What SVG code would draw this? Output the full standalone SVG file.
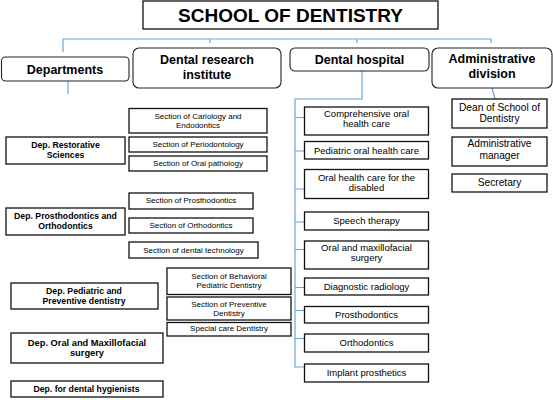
<svg xmlns="http://www.w3.org/2000/svg" width="553" height="400" viewBox="0 0 553 400">
<style>
text{font-family:"Liberation Sans",Arial,sans-serif;fill:#000;text-anchor:middle}
.top{fill:#fff;stroke:#222;stroke-width:1.1}
.box{fill:#fff;stroke:#111;stroke-width:1.3}
.t1{font-size:19px;font-weight:bold}
.t2{font-size:12.5px;font-weight:bold}
.dep{font-size:8.7px;font-weight:bold}
.sec{font-size:8px}
.hos{font-size:9.5px}
.adm{font-size:10.2px}
.con{fill:none;stroke:#6AA6DE;stroke-width:1.2}
</style>
<rect width="553" height="400" fill="#fff"/>
<g id="connectors" class="con">
<path d="M63,52 V39 H491 V43"/>
<path d="M210,39 V43"/>
<path d="M357,39 V43"/>
<path d="M68,81 V94"/>
<path d="M362,71 V99 H295 V367 H304.5"/>
<path d="M295,117.5 H304.5 M295,151 H304.5 M295,189 H304.5 M295,222 H304.5 M295,249.5 H304.5 M295,287.5 H304.5 M295,310.5 H304.5 M295,338.5 H304.5"/>
<path d="M492,88 L495,99"/>
<path d="M10,349 H20"/>
</g>
<g id="title"><rect class="box" x="143" y="1" width="295" height="28"/><text class="t1" x="290.5" y="21.5">SCHOOL OF DENTISTRY</text></g>
<g id="departments"><rect class="top" x="1.5" y="57" width="127.5" height="24" rx="4"/><text class="t2" x="65" y="73.5">Departments</text></g>
<g id="research"><rect class="top" x="133" y="48" width="148" height="40" rx="6"/><text class="t2" x="207" y="64.3">Dental research</text><text class="t2" x="207" y="78.7">institute</text></g>
<g id="hospital"><rect class="top" x="290" y="48" width="139" height="23" rx="5"/><text class="t2" x="359.5" y="63.5">Dental hospital</text></g>
<g id="admin"><rect class="top" x="432" y="48" width="120" height="40" rx="6"/><text class="t2" x="492" y="63.3">Administrative</text><text class="t2" x="492" y="77.7">division</text></g>

<g id="dep-restorative"><rect class="box" x="6" y="137" width="119" height="27"/><text class="dep" x="65.5" y="148">Dep. Restorative</text><text class="dep" x="65.5" y="157.7">Sciences</text></g>
<g id="dep-prosth"><rect class="box" x="6" y="208" width="119" height="27"/><text class="dep" x="65.5" y="219">Dep. Prosthodontics and</text><text class="dep" x="65.5" y="229">Orthodontics</text></g>
<g id="dep-pediatric"><rect class="box" x="11" y="283" width="147" height="26"/><text class="dep" x="84" y="294">Dep. Pediatric and</text><text class="dep" x="84" y="304.3">Preventive dentistry</text></g>
<g id="dep-oral"><rect class="box" x="11" y="333" width="152" height="30"/><text class="dep" x="87" y="345.7" style="font-size:9.3px">Dep. Oral and Maxillofacial</text><text class="dep" x="87" y="355.7" style="font-size:9.3px">surgery</text></g>
<g id="dep-hygienists"><rect class="box" x="11" y="381" width="152" height="16"/><text class="dep" x="86.5" y="391.7">Dep. for dental hygienists</text></g>

<g id="sec-cariology"><rect class="box" x="129" y="108.5" width="138" height="24.5"/><text class="sec" x="198" y="119.3">Section of Cariology and</text><text class="sec" x="198" y="127.7">Endodontics</text></g>
<g id="sec-perio"><rect class="box" x="129" y="137" width="138" height="15"/><text class="sec" x="198" y="147.3">Section of Periodontology</text></g>
<g id="sec-oralpath"><rect class="box" x="129" y="156" width="138" height="15"/><text class="sec" x="198" y="166">Section of Oral pathology</text></g>
<g id="sec-prosth"><rect class="box" x="129" y="193" width="124" height="16"/><text class="sec" x="191" y="203.3">Section of Prosthodontics</text></g>
<g id="sec-ortho"><rect class="box" x="129" y="218" width="124" height="15"/><text class="sec" x="191" y="228.3">Section of Orthodontics</text></g>
<g id="sec-tech"><rect class="box" x="129" y="242" width="129" height="16"/><text class="sec" x="193.5" y="252.7">Section of dental technology</text></g>
<g id="sec-behavioral"><rect class="box" x="167" y="268" width="124" height="26.5"/><text class="sec" x="229" y="279">Section of Behavioral</text><text class="sec" x="229" y="287.7">Pediatric Dentistry</text></g>
<g id="sec-preventive"><rect class="box" x="167" y="297" width="124" height="23"/><text class="sec" x="229" y="306.7">Section of Preventive</text><text class="sec" x="229" y="315.7">Dentistry</text></g>
<g id="sec-special"><rect class="box" x="167" y="322.5" width="124" height="13.5"/><text class="sec" x="229" y="330.5">Special care Dentistry</text></g>

<g id="h-comprehensive"><rect class="box" x="304.5" y="107" width="124" height="28"/><text class="hos" x="366.5" y="117.3">Comprehensive oral</text><text class="hos" x="366.5" y="127.3">health care</text></g>
<g id="h-pediatric"><rect class="box" x="304.5" y="141.5" width="124" height="17.5"/><text class="hos" x="366.5" y="153.5">Pediatric oral health care</text></g>
<g id="h-disabled"><rect class="box" x="304.5" y="169.5" width="124" height="29"/><text class="hos" x="366.5" y="181">Oral health care for the</text><text class="hos" x="366.5" y="191">disabled</text></g>
<g id="h-speech"><rect class="box" x="304.5" y="212" width="124" height="18"/><text class="hos" x="366.5" y="224">Speech therapy</text></g>
<g id="h-oralmax"><rect class="box" x="304.5" y="241" width="124" height="28"/><text class="hos" x="366.5" y="251">Oral and maxillofacial</text><text class="hos" x="366.5" y="261">surgery</text></g>
<g id="h-radiology"><rect class="box" x="304.5" y="278" width="124" height="17"/><text class="hos" x="366.5" y="289.5">Diagnostic radiology</text></g>
<g id="h-prosth"><rect class="box" x="304.5" y="306.5" width="124" height="16.5"/><text class="hos" x="366.5" y="317.5">Prosthodontics</text></g>
<g id="h-ortho"><rect class="box" x="304.5" y="334" width="124" height="18"/><text class="hos" x="366.5" y="345.7">Orthodontics</text></g>
<g id="h-implant"><rect class="box" x="304.5" y="364" width="124" height="18"/><text class="hos" x="366.5" y="376">Implant prosthetics</text></g>

<g id="a-dean"><rect class="box" x="452" y="99" width="95" height="29"/><text class="adm" x="499.5" y="111.2">Dean of School of</text><text class="adm" x="499.5" y="122.4">Dentistry</text></g>
<g id="a-manager"><rect class="box" x="452" y="137" width="95" height="29"/><text class="adm" x="499.5" y="147.4">Administrative</text><text class="adm" x="499.5" y="158.6">manager</text></g>
<g id="a-secretary"><rect class="box" x="452" y="174" width="95" height="18"/><text class="adm" x="499.5" y="185.7">Secretary</text></g>
</svg>
